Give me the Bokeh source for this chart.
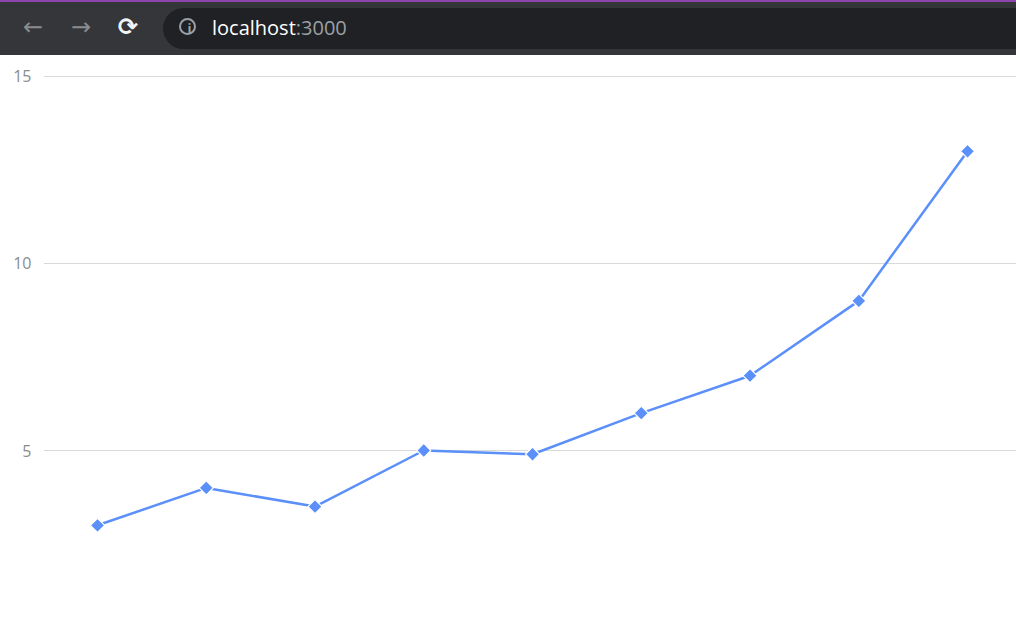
import math
from bokeh.plotting import figure
from bokeh.models import Range1d, ColumnDataSource, FixedTicker, Div
from bokeh.layouts import column
from bokeh.embed import file_html
from bokeh.resources import INLINE

# ---- data ----
categories = ["1", "2", "3", "4", "5", "6", "7", "8", "9"]
values = [3, 4, 3.5, 5, 4.9, 6, 7, 9, 13]
y_ticks = [0, 5, 10, 15]

# ---- browser chrome strip (HTML) ----
chrome_html = """
<div style="position:relative;width:1016px;height:55px;background:#35363a;overflow:hidden;">
  <div style="position:absolute;left:0;top:0;width:1016px;height:2px;background:#8e44ad;"></div>
  <div style="position:absolute;left:163px;top:8px;width:900px;height:41px;border-radius:21px;background:#202124;"></div>
  <span style="position:absolute;left:13px;top:12px;width:40px;text-align:center;font-family:'DejaVu Sans';font-size:24px;line-height:30px;color:#8a8b8e;">&#8592;</span>
  <span style="position:absolute;left:61px;top:12px;width:40px;text-align:center;font-family:'DejaVu Sans';font-size:24px;line-height:30px;color:#8a8b8e;">&#8594;</span>
  <span style="position:absolute;left:108px;top:12px;width:40px;text-align:center;font-family:'DejaVu Sans';font-weight:bold;font-size:24px;line-height:30px;color:#f1f3f4;">&#10227;</span>
  <div style="position:absolute;left:179px;top:18px;width:17px;height:17px;border:2px solid #9aa0a6;border-radius:50%;"></div>
  <span style="position:absolute;left:179px;top:18px;width:21px;height:21px;text-align:center;font-family:'Open Sans';font-weight:bold;font-size:13px;line-height:21px;color:#9aa0a6;">i</span>
  <span style="position:absolute;left:212px;top:14px;font-family:'Open Sans';font-size:20px;line-height:28px;color:#ffffff;white-space:nowrap;">localhost<span style="color:#9aa0a6;">:3000</span></span>
</div>
"""
chrome = Div(text=chrome_html, width=1016, height=55, margin=0)

# ---- chart ----
xs = list(range(len(categories)))
src = ColumnDataSource(dict(x=xs, y=values, cat=categories))

p = figure(width=1016, height=577, output_backend="svg", toolbar_location=None,
           x_range=Range1d(-0.4966, 8.45), y_range=Range1d(0.134, 15.561),
           min_border=0, min_border_left=43, outline_line_color=None)
p.xaxis.visible = False
p.xgrid.visible = False
p.yaxis.ticker = FixedTicker(ticks=y_ticks)
p.yaxis.axis_line_color = None
p.yaxis.major_tick_line_color = None
p.yaxis.minor_tick_line_color = None
p.yaxis.major_label_text_color = "#8c8c8c"
p.yaxis.major_label_text_font = "Open Sans"
p.yaxis.major_label_text_font_size = "16px"
p.yaxis.major_label_standoff = 6
p.ygrid.grid_line_color = "#d9d9d9"
p.ygrid.grid_line_width = 1
p.ygrid.ticker = FixedTicker(ticks=y_ticks)

p.line(x="x", y="y", source=src, line_color="#5B8FF9", line_width=2.5)
p.scatter(x="x", y="y", source=src, marker="square", angle=math.pi / 4, size=10,
          fill_color="#5B8FF9", line_color="#ffffff", line_width=1.2)

layout = column(chrome, p, spacing=0)
open("out.html", "w").write(file_html(layout, INLINE))
